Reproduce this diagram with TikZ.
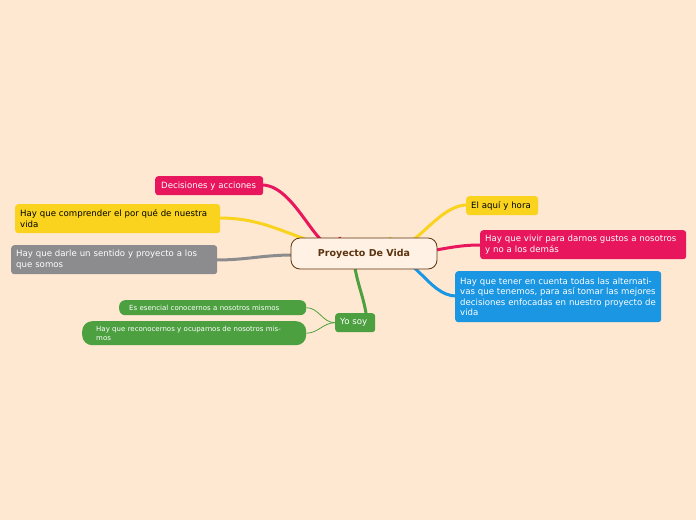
\documentclass[tikz,border=0pt]{standalone}
\usepackage{fontspec}
\setmainfont{DejaVu Sans}
\begin{document}
\begin{tikzpicture}[x=1pt,y=-1pt,
  box/.style={rounded corners=3pt,inner sep=0pt,anchor=north west,align=left,font=\fontsize{8.6}{10.4}\selectfont},
  br/.style={line width=#1,line cap=round}]
\definecolor{bg}{HTML}{FFE8D1}
\definecolor{pinkc}{HTML}{E8175D}
\definecolor{yelc}{HTML}{F9D31E}
\definecolor{grayc}{HTML}{8C8C8E}
\definecolor{greenc}{HTML}{4CA03F}
\definecolor{bluec}{HTML}{1A96E3}
\definecolor{brownc}{HTML}{5C3310}
\fill[bg] (0,0) rectangle (696,520);
\useasboundingbox (0,0) rectangle (696,520);
% branches
\coordinate (c1) at (340,238);
\coordinate (c2) at (305,239);
\coordinate (c3) at (293,255);
\coordinate (c4) at (355,268);
\coordinate (c5) at (390,238);
\coordinate (c6) at (436,250);
\coordinate (c7) at (390,265);
\draw[br=3pt,pinkc] (c1) to[out=-120,in=0,looseness=1] (262,185);
\draw[br=3pt,yelc] (c2) to[out=160,in=0] (219,218);
\draw[br=3pt,grayc] (c3) to[out=180,in=0] (216,260);
\draw[br=3pt,greenc] (c4) to[out=-80,in=100] (366,313);
\draw[br=3pt,yelc] (c5) to[out=-60,in=180] (467,205);
\draw[br=3pt,pinkc] (c6) to[out=10,in=180] (481,245);
\draw[br=3pt,bluec] (c7) to[out=40,in=180] (456,296);
% nodes
\node[box,fill=pinkc,text=white,minimum width=108pt,minimum height=19pt,text width=100pt,inner xsep=4pt] (dec) at (155,176) {\hspace{2pt}Decisiones y acciones};
\node[box,fill=yelc,text=black,minimum width=205pt,minimum height=29pt,text width=195pt,inner xsep=5pt] (com) at (15,204) {Hay que comprender el por qué de nuestra vida};
\node[box,fill=grayc,text=white,minimum width=206pt,minimum height=29pt,text width=196pt,inner xsep=5pt] (dar) at (11,245) {Hay que darle un sentido y proyecto a los que somos};
\node[box,fill=greenc,text=white,minimum width=40pt,minimum height=19pt,text width=34pt,inner xsep=3pt,anchor=north west] (yo) at (335,313) {\hspace{2pt}Yo soy};
\node[box,fill=greenc,text=white,rounded corners=6pt,minimum width=187pt,minimum height=15pt,text width=177pt,inner xsep=5pt,font=\fontsize{7}{8.5}\selectfont] (ese) at (119,300) {\hspace{5pt}Es esencial conocernos a nosotros mismos};
\node[box,fill=greenc,text=white,rounded corners=10pt,minimum width=224pt,minimum height=24pt,text width=196pt,inner xsep=14pt,font=\fontsize{7}{8.5}\selectfont] (rec) at (82,321) {Hay que reconocernos y ocuparnos de nosotros mismos};
\node[box,fill=yelc,text=black,minimum width=72pt,minimum height=19pt,text width=66pt,inner xsep=3pt] (aqui) at (466,196) {\hspace{2pt}El aquí y hora};
\node[box,fill=pinkc,text=white,minimum width=205pt,minimum height=29pt,text width=196pt,inner xsep=5pt] (viv) at (480,230) {Hay que vivir para darnos gustos a nosotros y no a los demás};
\node[box,fill=bluec,text=white,minimum width=205pt,minimum height=51pt,text width=196pt,inner xsep=5pt] (ten) at (455,271) {Hay que tener en cuenta todas las alternativas que tenemos, para así tomar las mejores decisiones enfocadas en nuestro proyecto de vida};
\node[draw=brownc,line width=0.8pt,fill=bg!60!white,rounded corners=9pt,minimum width=146pt,minimum height=31pt,text=brownc,font=\bfseries\fontsize{9.5}{11}\selectfont] (ctr) at (364,253.5) {Proyecto De Vida};
% yo soy children
\draw[greenc,line width=0.8pt] (yo.west) to[out=180,in=0] (ese.east);
\draw[greenc,line width=0.8pt] (yo.west) to[out=180,in=0] (rec.east);
\end{tikzpicture}
\end{document}
